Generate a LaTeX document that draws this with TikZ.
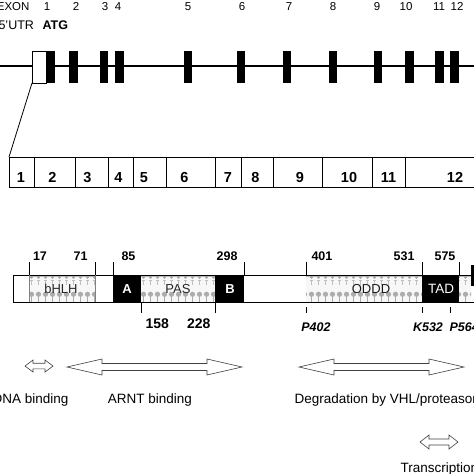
\documentclass[tikz,border=0pt]{standalone}
\usepackage{fontspec}
\setmainfont{Liberation Sans}
\newcommand\dblarrow[6]{%
  \draw[arrowshape] (#1,#3) -- ({#1+#4},{#3-#5}) -- ({#1+#4},{#3-#6}) -- ({#2-#4},{#3-#6}) -- ({#2-#4},{#3-#5}) -- (#2,#3)
   -- ({#2-#4},{#3+#5}) -- ({#2-#4},{#3+#6}) -- ({#1+#4},{#3+#6}) -- ({#1+#4},{#3+#5}) -- cycle;}
\newcommand\hatchreg[2]{%
  \fill[gray!6] (#1,275) rectangle (#2,302);
  \begin{scope}
    \clip (#1,275) rectangle (#2,302);
    \fill[gray!55] (#1,275) rectangle (#2,277);
    \foreach \x in {0,7,...,476}{
      \fill[gray!70] ({\x+3.5},277.2) circle (1.6);
      \draw[gray!50, line width=0.7pt] ({\x+3.5},280) -- ({\x+3.5},284.5) ({\x+2},280) -- ({\x+5},280);
      \draw[gray!65, line width=1pt] ({\x+3.5},295) -- ({\x+3.5},302);
      \fill[gray!65] ({\x+3.5},294.3) circle (2.6);
    }
  \end{scope}}
\begin{document}
\begin{tikzpicture}[x=1pt,y=-1pt,
  exonbox/.style={fill=black, inner sep=0, outer sep=0, minimum height=32, minimum width=8.5, anchor=north west},
  utrbox/.style={draw=black, fill=white, line width=0.8pt, inner sep=0, outer sep=0, minimum height=32, minimum width=14, anchor=north west},
  cell/.style={draw=black, line width=0.9pt, inner sep=0, outer sep=0, minimum height=30, anchor=north west},
  exlab/.style={font=\fontsize{11.5}{13}\selectfont, anchor=base},
  celllab/.style={font=\fontsize{14.5}{16}\selectfont\bfseries, anchor=base},
  toplab/.style={font=\fontsize{12.5}{14}\selectfont\bfseries, anchor=base},
  botlab/.style={font=\fontsize{14}{16}\selectfont\bfseries, anchor=base},
  reslab/.style={font=\fontsize{12.5}{14}\selectfont\bfseries\itshape, anchor=base},
  domlab/.style={font=\fontsize{13}{15}\selectfont, anchor=base},
  funlab/.style={font=\fontsize{13.5}{15}\selectfont, anchor=base},
  arrowshape/.style={draw=black!75, fill=white, line width=0.6pt, line join=miter},
  tick/.style={line width=0.8pt}]
\useasboundingbox (0,0) rectangle (474,474);
\clip (0,0) rectangle (474,474);

% ---------- gene ----------
\coordinate (gl) at (-5,66);
\coordinate (gr) at (480,66);
\draw[line width=2pt] (gl) -- (gr);
\node[utrbox] (utr) at (32,51) {};
\foreach \n/\x in {1/46,2/69,3/99.5,4/115,5/183.5,6/236.5,7/282.5,8/328.5,9/373.5,10/405,11/435,12/450}{
  \node[exonbox] (e\n) at (\x,51) {};
}
\node[exlab, anchor=base east] (exon) at (33,10) {EXON};
\foreach \n/\x in {1/47,2/76,3/105,4/118,5/188,6/242,7/289,8/333,9/377,10/406,11/439,12/457}{
  \node[exlab] (el\n) at (\x,10) {\n};
}
\node[font=\fontsize{12.5}{14}\selectfont, anchor=base east] (utrlab) at (37.5,29) {5'UTR};
\node[font=\fontsize{12.5}{14}\selectfont\bfseries, anchor=base west] (atg) at (39,29) {ATG};

% ---------- exon row ----------
\foreach \a/\b/\n in {9/34/1,34/75/2,75/108/3,108/133/4,133/166/5,166/215/6,215/241/7,241/273/8,273/322/9,322/372/10,372/405/11,405/480/12}{
  \node[cell, minimum width={\b-\a}] (c\n) at (\a,157) {};
}
\foreach \n/\x in {1/21,2/52.5,3/87.5,4/118.5,5/144,6/184.5,7/228,8/255.5,9/300,10/349,11/388.5,12/455}{
  \node[celllab] (cl\n) at (\x,182) {\n};
}
\draw[line width=0.8pt] (utr.south west) -- (c1.north west);

% ---------- protein ----------
\fill[white] (13,275) rectangle (480,302);
\hatchreg{29}{95}
\hatchreg{141}{215}
\hatchreg{306}{422}
\hatchreg{459}{471}
\fill[black] (113,275) rectangle (141,302);
\fill[black] (215,275) rectangle (244,302);
\fill[black] (422,275) rectangle (459,302);
\fill[black] (471,265) rectangle (476,286);
\draw[line width=0.8pt] (480,275) -- (13,275) -- (13,302) -- (480,302);
\draw[line width=0.5pt, gray] (29,275) -- (29,302) (95,275) -- (95,302);

\node[domlab, text=black!85] (bhlh) at (61,293) {bHLH};
\node[domlab, text=black!85] (pas) at (178,293) {PAS};
\node[domlab, text=white, font=\fontsize{13}{15}\selectfont\bfseries] (doma) at (127,293) {A};
\node[domlab, text=white, font=\fontsize{13}{15}\selectfont\bfseries] (domb) at (230,293) {B};
\node[domlab, text=black!90] (oddd) at (371,293) {ODDD};
\node[domlab, text=white, font=\fontsize{13.5}{15}\selectfont] (tad) at (441,293) {TAD};

% ticks above
\foreach \x in {29,95,113,244,306,422,459}{
  \draw[tick] (\x,262) -- (\x,275);
}
\node[toplab, anchor=base west] (p17) at (29.5,260) {17};
\node[toplab, anchor=base east] (p71) at (91,260) {71};
\node[toplab, anchor=base west] (p85) at (118,260) {85};
\node[toplab, anchor=base east] (p298) at (241,260) {298};
\node[toplab, anchor=base west] (p401) at (308,260) {401};
\node[toplab, anchor=base east] (p531) at (418,260) {531};
\node[toplab] (p575) at (445,260) {575};

% ticks below
\draw[tick] (141,302) -- (141,313);
\draw[tick] (215,302) -- (215,313);
\node[botlab, anchor=base west] (p158) at (142,328) {158};
\node[botlab, anchor=base east] (p228) at (214,328) {228};

\foreach \x in {306,422,450}{
  \draw[tick] (\x,307) -- (\x,313);
}
\node[reslab] (r402) at (316,331) {P402};
\node[reslab] (r532) at (428,331) {K532};
\node[reslab, anchor=base west] (r564) at (446,331) {P564};

% ---------- functional arrows ----------
\dblarrow{25}{53}{366}{8}{6}{2.8}
\dblarrow{67}{242}{367}{35}{8}{3.5}
\dblarrow{299}{464}{367}{35}{8}{3.5}
\dblarrow{420}{458}{442}{9}{7}{3}

\node[funlab, anchor=base east] (dna) at (72,403) {DNA binding};
\node[funlab] (arnt) at (150,403) {ARNT binding};
\node[funlab, anchor=base west] (deg) at (291,403) {Degradation by VHL/proteasome};
\node[funlab, anchor=base west] (trans) at (397,472) {Transcription};
\end{tikzpicture}
\end{document}
